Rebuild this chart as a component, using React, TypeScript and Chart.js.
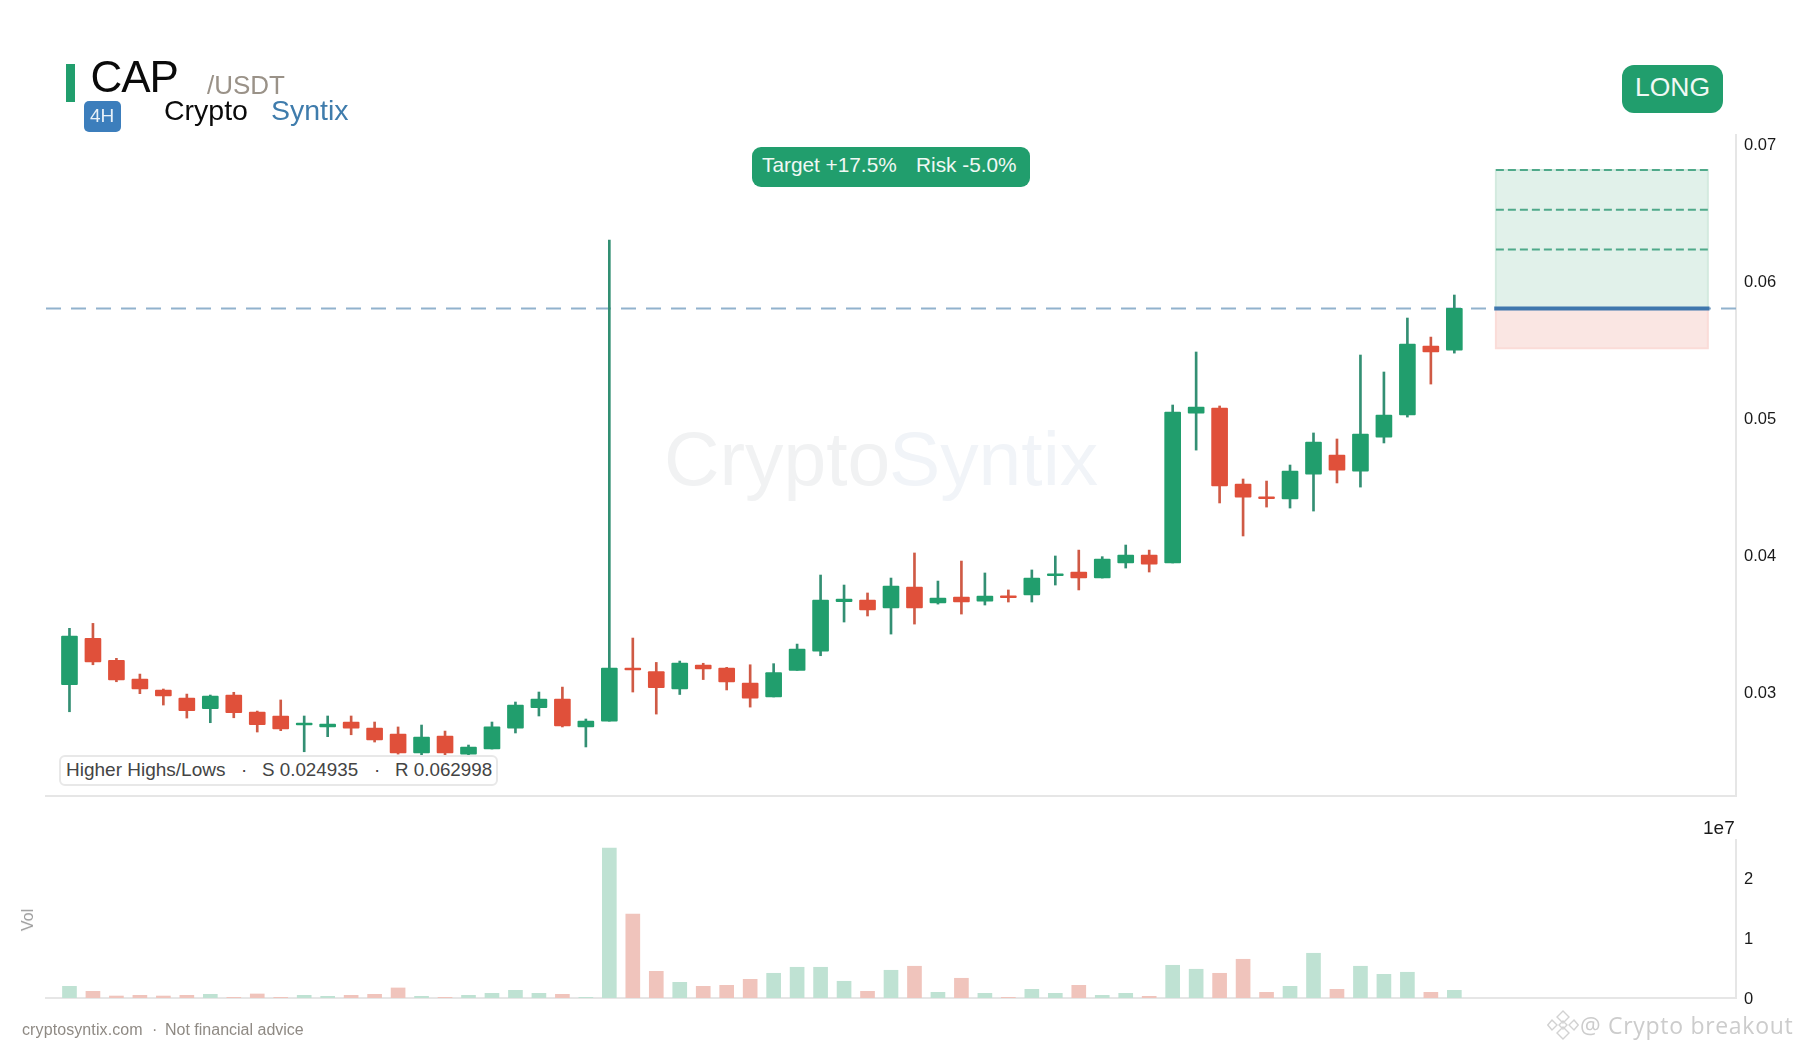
import React, { useEffect, useRef } from "react";
import { Chart, registerables } from "chart.js";

Chart.register(...registerables);

// ---- data ----
const highs = [0.03465,0.03501,0.03246,0.03131,0.03022,0.02985,0.02978,0.02998,0.02861,0.02942,0.02825,0.02825,0.02825,0.02781,0.02745,0.02759,0.02715,0.02613,0.02781,0.02927,0.03,0.03036,0.02803,0.062998,0.03394,0.03216,0.03226,0.0321,0.0318,0.03199,0.03207,0.0335,0.03854,0.03781,0.03723,0.03832,0.04015,0.0381,0.03956,0.03869,0.03745,0.03891,0.03993,0.04036,0.03988,0.04073,0.04036,0.05095,0.05482,0.05088,0.04555,0.0454,0.04657,0.04891,0.04847,0.0546,0.05336,0.0573,0.05591,0.05898];
const lows = [0.02856,0.03199,0.03075,0.02988,0.02905,0.0281,0.02776,0.02812,0.02708,0.02718,0.02564,0.02674,0.02688,0.02635,0.02547,0.0254,0.0254,0.024935,0.02584,0.02701,0.02825,0.02745,0.02599,0.02788,0.03,0.02839,0.02982,0.03091,0.03015,0.0289,0.02964,0.03158,0.03265,0.03511,0.03555,0.03423,0.03496,0.03642,0.03569,0.03635,0.03657,0.03657,0.03781,0.03745,0.03832,0.03905,0.03876,0.03942,0.04766,0.0438,0.04139,0.0435,0.04343,0.04321,0.04526,0.04496,0.04818,0.05007,0.05248,0.05474];
const opens = [0.03053,0.03392,0.03231,0.03095,0.03015,0.02956,0.02878,0.02978,0.02854,0.02825,0.02759,0.02745,0.02781,0.02737,0.02693,0.02555,0.02679,0.02547,0.02584,0.02737,0.02885,0.02949,0.02745,0.02788,0.03175,0.03149,0.03023,0.03197,0.03175,0.03066,0.02965,0.03158,0.03299,0.03659,0.03672,0.03613,0.03766,0.0365,0.03693,0.03664,0.03699,0.03708,0.03849,0.03876,0.03832,0.03942,0.04,0.03942,0.05036,0.05073,0.04518,0.04421,0.04409,0.04591,0.0473,0.04613,0.04861,0.05022,0.05526,0.05496];
const closes = [0.03409,0.03219,0.03088,0.03022,0.02971,0.02864,0.02971,0.02849,0.02761,0.0273,0.02766,0.02766,0.02737,0.0265,0.02555,0.02672,0.02555,0.02598,0.02745,0.02905,0.02949,0.02752,0.02788,0.03175,0.03161,0.03032,0.03212,0.03168,0.03073,0.02956,0.03141,0.03314,0.03672,0.03679,0.03599,0.03774,0.03613,0.03686,0.03657,0.03701,0.03688,0.03832,0.03861,0.03832,0.03971,0.04,0.03934,0.05044,0.0508,0.04504,0.04423,0.04411,0.04613,0.04825,0.0462,0.04883,0.05022,0.0554,0.05482,0.058];
const volumes = [0.194,0.111,0.033,0.044,0.033,0.044,0.061,0.011,0.067,0.011,0.044,0.028,0.044,0.061,0.167,0.028,0.011,0.044,0.078,0.128,0.078,0.061,0.011,2.494,1.394,0.444,0.261,0.194,0.211,0.311,0.411,0.511,0.511,0.278,0.111,0.461,0.528,0.094,0.328,0.078,0.011,0.144,0.078,0.211,0.044,0.078,0.028,0.544,0.478,0.411,0.644,0.094,0.194,0.744,0.144,0.528,0.394,0.428,0.094,0.128];
const priceTicks = [0.03, 0.04, 0.05, 0.06, 0.07];
const volumeTicks = [0, 1, 2];
const entry = 0.058;
const stop = 0.0551;
const targets = [0.0623, 0.0652, 0.0681];
const zoneStart = 60.77;
const zoneEnd = 69.8;

const GREEN = "#219e6d";
const RED = "#e0503a";
const isUp = closes.map((c, i) => c >= opens[i]);
const bodyColors = isUp.map((u) => (u ? GREEN : RED));
const wickColors = isUp.map((u) => (u ? "#338f73" : "#cf5a45"));
const volColors = isUp.map((u) => (u ? "#bfe2d3" : "#f0c4bc"));
const SPINE = "#e6e6e6";
const FONT = "'Liberation Sans', Arial, sans-serif";

const xScale = {
  type: "linear" as const,
  min: -1,
  max: 71,
  offset: false,
  grid: { display: false, drawTicks: false, offset: false },
  border: { display: true, color: SPINE, width: 2 },
  ticks: { display: false },
  afterFit: (s: any) => { s.height = 0; },
};

const zone = (edge: number, fillColor: string, edgeColor: string) => ({
  type: "line" as const,
  data: [
    { x: zoneStart, y: entry },
    { x: zoneStart, y: edge },
    { x: zoneEnd, y: edge },
    { x: zoneEnd, y: entry },
  ],
  borderColor: edgeColor,
  borderWidth: 2,
  backgroundColor: fillColor,
  fill: { value: entry },
  pointRadius: 0,
  tension: 0,
  order: 9,
});

const hline = (y: number, x0: number, x1: number, color: string, width: number, dash: number[], order: number) => ({
  type: "line" as const,
  data: [{ x: x0, y }, { x: x1, y }],
  borderColor: color,
  borderWidth: width,
  borderDash: dash,
  pointRadius: 0,
  fill: false,
  order,
});

function Text(p: { x: number; base: number; size: number; color: string; children: React.ReactNode; family?: string; spacing?: number; }) {
  return (
    <div style={{ position: "absolute", left: p.x, top: p.base - 0.9465 * p.size, fontSize: p.size, lineHeight: 1.2, color: p.color, fontFamily: p.family || FONT, letterSpacing: p.spacing || 0, whiteSpace: "pre" }}>
      {p.children}
    </div>
  );
}

function Box(p: { x: number; y: number; w: number; h: number; r: number; color: string }) {
  return <div style={{ position: "absolute", left: p.x, top: p.y, width: p.w, height: p.h, borderRadius: p.r, background: p.color }} />;
}

export default function App() {
  const priceRef = useRef<HTMLCanvasElement>(null);
  const volRef = useRef<HTMLCanvasElement>(null);

  useEffect(() => {
    const price = new Chart(priceRef.current!, {
      type: "bar",
      data: {
        datasets: [
          zone(targets[2], "#e1f1ea", "#d3eadf"),
          zone(stop, "#fae6e3", "#fadcd8"),
          ...targets.map((t) => hline(t, zoneStart, zoneEnd, "#4fa98a", 2, [8, 4], 8)),
          hline(entry, -1, 71, "#91b2cd", 2, [15, 10], 7),
          hline(entry, zoneStart - 0.07, zoneEnd + 0.07, "#3f77ad", 4, [], 6),
          {
            type: "bar" as const,
            data: highs.map((h, i) => ({ x: i, y: [lows[i], h] })),
            backgroundColor: wickColors,
            barThickness: 2,
            grouped: false,
            order: 3,
          },
          {
            type: "bar" as const,
            data: opens.map((o, i) => ({ x: i, y: [o, closes[i]] })),
            backgroundColor: bodyColors,
            barThickness: 16,
            minBarLength: 2,
            grouped: false,
            borderRadius: 1,
            borderSkipped: false,
            order: 1,
          },
        ] as any,
      },
      options: {
        responsive: false,
        animation: false,
        events: [],
        layout: { padding: { left: 46, right: 0, top: 135, bottom: 54 } },
        plugins: { legend: { display: false }, tooltip: { enabled: false } },
        scales: {
          x: xScale as any,
          y: {
            position: "right",
            min: 0.02241,
            max: 0.07066,
            grid: { display: false, drawTicks: false },
            border: { display: true, color: SPINE, width: 2 },
            ticks: {
              padding: 8,
              labelOffset: 1.5,
              color: "#1a1a1a",
              font: { family: FONT, size: 16.5 },
              callback: (v: any) => Number(v).toFixed(2),
            },
            afterBuildTicks: (s: any) => { s.ticks = priceTicks.map((value) => ({ value })); },
            afterFit: (s: any) => { s.width = 64; },
          } as any,
        },
      },
    });

    const vol = new Chart(volRef.current!, {
      type: "bar",
      data: {
        datasets: [
          {
            data: volumes.map((v, i) => ({ x: i, y: v })),
            backgroundColor: volColors,
            barThickness: 14,
            grouped: false,
          },
        ] as any,
      },
      options: {
        responsive: false,
        animation: false,
        events: [],
        layout: { padding: { left: 46, right: 0, top: 40, bottom: 52 } },
        plugins: { legend: { display: false }, tooltip: { enabled: false } },
        scales: {
          x: xScale as any,
          y: {
            position: "right",
            min: 0,
            max: 2.628,
            grid: { display: false, drawTicks: false },
            border: { display: true, color: SPINE, width: 2 },
            ticks: {
              padding: 8,
              labelOffset: 1.5,
              color: "#1a1a1a",
              font: { family: FONT, size: 16.5 },
              callback: (v: any) => String(v),
            },
            afterBuildTicks: (s: any) => { s.ticks = volumeTicks.map((value) => ({ value })); },
            afterFit: (s: any) => { s.width = 64; },
          } as any,
        },
      },
    });

    return () => {
      price.destroy();
      vol.destroy();
    };
  }, []);

  return (
    <div style={{ position: "absolute", left: 0, top: 0, width: 1800, height: 1050, background: "#fff", overflow: "hidden", fontFamily: FONT }}>
      <Text x={664} base={485} size={76.8} color="#f1f2f3">Crypto</Text>
      <Text x={889} base={485} size={76.8} color="#f1f4f8">Syntix</Text>
      <canvas ref={priceRef} width={1800} height={850} style={{ position: "absolute", left: 0, top: 0 }} />
      <canvas ref={volRef} width={1800} height={250} style={{ position: "absolute", left: 0, top: 800 }} />

      <Box x={66} y={64} w={9} h={38} r={0} color={GREEN} />
      <Text x={90.5} base={92.3} size={44} spacing={-1} color="#0a0a0a">CAP</Text>
      <Text x={207} base={95} size={26} color="#9a9288">/USDT</Text>
      <Box x={84} y={101} w={36.5} h={31} r={5} color="#3c7ebc" />
      <Text x={90} base={123} size={19} color="#e8f1f8">4H</Text>
      <Text x={164} base={120} size={28.5} color="#0a0a0a">Crypto</Text>
      <Text x={271} base={120} size={28.5} color="#3f7cac">Syntix</Text>

      <Box x={1622} y={65} w={100.5} h={48} r={12} color={GREEN} />
      <Text x={1635} base={97} size={26.5} color="#f0f8f4">LONG</Text>

      <Box x={752} y={147} w={278} h={40} r={9} color={GREEN} />
      <Text x={762} base={172.3} size={20.8} color="#f0f8f4">Target +17.5%</Text>
      <Text x={916} base={172.3} size={20.8} color="#f0f8f4">Risk -5.0%</Text>

      <div style={{ position: "absolute", left: 59, top: 755, width: 439, height: 31, boxSizing: "border-box", border: "2px solid #e8e8e8", borderRadius: 6, background: "#fff" }} />
      <Text x={66} base={776.5} size={19} color="#444">Higher Highs/Lows</Text>
      <Text x={241} base={776.5} size={18.8} color="#444">·</Text>
      <Text x={262} base={776.5} size={18.8} color="#444">S 0.024935</Text>
      <Text x={374} base={776.5} size={18.8} color="#444">·</Text>
      <Text x={395} base={776.5} size={18.8} color="#444">R 0.062998</Text>

      <Text x={1703} base={834.5} size={19} color="#1a1a1a">1e7</Text>
      <div style={{ position: "absolute", left: 28, top: 919.5, transform: "translate(-50%,-50%) rotate(-90deg)", fontSize: 16, color: "#999", fontFamily: FONT }}>Vol</div>

      <Text x={22} base={1035} size={16} spacing={0.1} color="#8f8a84">cryptosyntix.com</Text>
      <Text x={152} base={1035} size={16} color="#8f8a84">·</Text>
      <Text x={165} base={1035} size={16} color="#8f8a84">Not financial advice</Text>

      <svg width={32} height={30} viewBox="0 0 32 30" style={{ position: "absolute", left: 1547, top: 1010 }} fill="none" stroke="#d2d2d2" strokeWidth={1.4}>
        <path d="M16 1 L22 7 L16 13 L10 7 Z M5 10 L10 15 L5 20 L0.8 15 Z M27 10 L31.2 15 L27 20 L22 15 Z M16 17 L22 23 L16 29 L10 23 Z M16 11 L20 15 L16 19 L12 15 Z" />
      </svg>
      <Text x={1580} base={1034} size={23} spacing={0.7} color="#cccccc" family="'Open Sans', sans-serif">@ Crypto breakout</Text>
    </div>
  );
}
